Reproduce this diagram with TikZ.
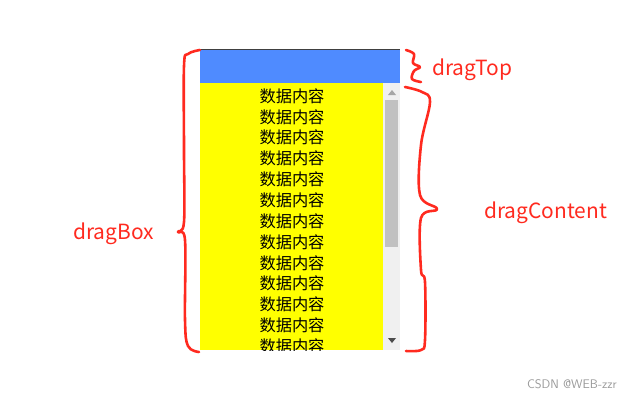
\documentclass[tikz,border=0pt]{standalone}
\usepackage{fontspec}
\usepackage{tikz}
\usetikzlibrary{positioning,calc}
\newfontfamily\cjk{Noto Sans CJK SC}
\definecolor{topblue}{HTML}{4F8BFF}
\definecolor{rowyellow}{HTML}{FFFF00}
\definecolor{markred}{HTML}{FF2A1F}
\definecolor{trackgray}{HTML}{F0F0F0}
\definecolor{thumbgray}{HTML}{C1C1C1}
\definecolor{wmgray}{HTML}{9A9A9A}
\tikzset{
  handbrace/.style={draw=markred,line width=2.6pt,line cap=round,line join=round},
  marklabel/.style={text=markred,font=\cjk\fontsize{21}{24}\selectfont,inner sep=0pt},
  rowtext/.style={font=\cjk\fontsize{16.3}{19}\selectfont,inner sep=0pt}
}

\begin{document}
\begin{tikzpicture}[x=1bp,y=-1bp]
  \useasboundingbox (0,0) rectangle (631,400);
  \fill[white] (0,0) rectangle (631,400);
  % drag box
  \fill[topblue] (200,50) rectangle (400,83);
  \draw[black!75,line width=1.2pt] (200,49.6) -- (400,49.6);
  \fill[rowyellow] (200,83) rectangle (383,350);
  \fill[trackgray] (383,83) rectangle (400,350);
  \fill[thumbgray] (385,100) rectangle (398,247);
  \fill[black!35] (388,95) -- (396,95) -- (392,90) -- cycle;
  \fill[black!70] (388,338) -- (396,338) -- (392,343) -- cycle;
  \begin{scope}
    \clip (200,83) rectangle (383,350);
    \foreach \i in {0,...,12}
      \node[rowtext] (row\i) at (292,96+\i*20.85) {数据内容};
  \end{scope}
  % braces
  \draw[handbrace] plot[smooth,tension=0.6] coordinates {(200,50) (188,54) (184,66) (184,150) (184,222) (178,232) (185,240) (185,320) (188,346) (199,352)};
  \draw[handbrace] plot[smooth,tension=0.6] coordinates {(406,50) (414,54) (413,63) (420,67) (414,71) (412,79) (421,82)};
  \draw[handbrace] plot[smooth,tension=0.6] coordinates {(405,87) (422,92) (430,102) (421,145) (420,195) (437,209) (421,218) (421,270) (425,282) (425,340) (421,350) (406,351)};
  % labels
  \node[marklabel,anchor=west] (topLabel) at (432,70) {dragTop};
  \node[marklabel,anchor=west] (contentLabel) at (484,213) {dragContent};
  \node[marklabel,anchor=east] (boxLabel) at (154,234) {dragBox};
  \node[text=wmgray,font=\sffamily\fontsize{12.5}{14}\selectfont,anchor=east,inner sep=0pt] (csdnMark) at (617,384) {CSDN @WEB-zzr};
\end{tikzpicture}
\end{document}
